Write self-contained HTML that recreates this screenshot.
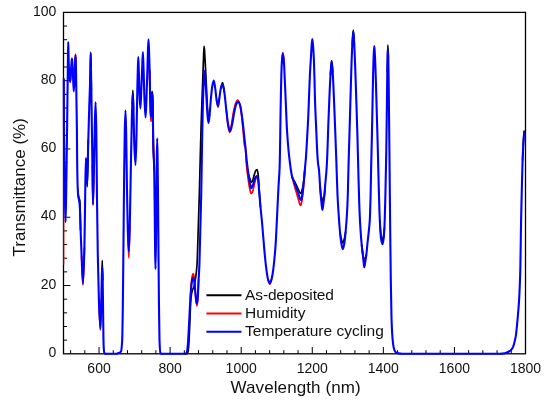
<!DOCTYPE html>
<html><head><meta charset="utf-8"><title>Transmittance</title>
<style>html,body{margin:0;padding:0;background:#fff;width:550px;height:406px;overflow:hidden}
svg{display:block}
text{font-family:"Liberation Sans",Arial,sans-serif;fill:#111}</style></head>
<body><svg width="550" height="406" viewBox="0 0 550 406">
<rect width="550" height="406" fill="#fff"/>
<rect x="63.50" y="12.40" width="462.00" height="341.40" fill="none" stroke="#000" stroke-width="1.3"/>
<path d="M70.61 353.80 V350.20 M84.82 353.80 V350.20 M99.04 353.80 V347.00 M113.25 353.80 V350.20 M127.47 353.80 V350.20 M141.68 353.80 V350.20 M155.90 353.80 V350.20 M170.12 353.80 V347.00 M184.33 353.80 V350.20 M198.55 353.80 V350.20 M212.76 353.80 V350.20 M226.98 353.80 V350.20 M241.19 353.80 V347.00 M255.41 353.80 V350.20 M269.62 353.80 V350.20 M283.84 353.80 V350.20 M298.05 353.80 V350.20 M312.27 353.80 V347.00 M326.48 353.80 V350.20 M340.70 353.80 V350.20 M354.92 353.80 V350.20 M369.13 353.80 V350.20 M383.35 353.80 V347.00 M397.56 353.80 V350.20 M411.78 353.80 V350.20 M425.99 353.80 V350.20 M440.21 353.80 V350.20 M454.42 353.80 V347.00 M468.64 353.80 V350.20 M482.85 353.80 V350.20 M497.07 353.80 V350.20 M511.28 353.80 V350.20 M63.50 340.14 H67.10 M63.50 326.49 H67.10 M63.50 312.83 H67.10 M63.50 299.18 H67.10 M63.50 285.52 H70.30 M63.50 271.86 H67.10 M63.50 258.21 H67.10 M63.50 244.55 H67.10 M63.50 230.90 H67.10 M63.50 217.24 H70.30 M63.50 203.58 H67.10 M63.50 189.93 H67.10 M63.50 176.27 H67.10 M63.50 162.62 H67.10 M63.50 148.96 H70.30 M63.50 135.30 H67.10 M63.50 121.65 H67.10 M63.50 107.99 H67.10 M63.50 94.34 H67.10 M63.50 80.68 H70.30 M63.50 67.02 H67.10 M63.50 53.37 H67.10 M63.50 39.71 H67.10 M63.50 26.06 H67.10" stroke="#000" stroke-width="1" fill="none"/>
<clipPath id="pc"><rect x="63.50" y="0" width="465.00" height="406"/></clipPath>
<g clip-path="url(#pc)">
<path d="M77.80 190.00 C78.00 193.23 78.20 195.02 78.40 196.00 C78.67 197.30 78.93 197.64 79.20 198.50 C79.40 199.15 79.60 199.32 79.80 200.50 C80.07 202.07 80.33 221.82 80.60 230.00 M86.50 172.00 C86.73 177.18 86.97 186.80 87.20 186.80 C87.57 186.80 87.93 154.06 88.30 140.00 M90.00 85.00 C90.13 80.62 90.27 76.22 90.40 70.00 C90.50 65.33 90.60 52.00 90.70 52.00 C90.80 52.00 90.90 64.14 91.00 70.00 C91.12 76.83 91.23 82.60 91.35 90.00 M101.90 275.00 C102.03 269.81 102.17 260.30 102.30 260.30 C102.43 260.30 102.57 271.94 102.70 280.00 M132.30 104.00 C132.50 98.64 132.70 90.30 132.90 90.30 C133.10 90.30 133.30 102.55 133.50 110.00 M149.60 70.00 C149.70 74.24 149.80 81.20 149.90 85.00 C150.03 90.06 150.17 94.68 150.30 97.00 C150.47 99.90 150.63 103.00 150.80 103.00 C151.07 103.00 151.33 95.59 151.60 94.00 C151.80 92.81 152.00 91.50 152.20 91.50 C152.37 91.50 152.53 93.19 152.70 96.00 C152.78 97.41 152.87 104.11 152.95 110.00 C153.07 118.25 153.18 139.47 153.30 145.00 C153.60 159.22 153.90 157.03 154.20 170.00 M185.50 353.70 C185.83 353.70 186.17 353.70 186.50 353.70 C186.77 353.70 187.03 353.62 187.30 353.50 C187.63 353.35 187.97 351.89 188.30 350.00 C188.63 348.11 188.97 341.27 189.30 335.00 C189.53 330.61 189.77 323.75 190.00 318.00 C190.20 313.07 190.40 305.94 190.60 303.00 C190.90 298.59 191.20 295.73 191.50 294.00 C191.83 292.08 192.17 290.89 192.50 290.00 C192.83 289.11 193.17 288.80 193.50 288.00 C193.83 287.20 194.17 286.35 194.50 285.00 C194.87 283.51 195.23 280.75 195.60 278.00 C196.07 274.50 196.53 271.66 197.00 265.00 C197.40 259.29 197.80 242.18 198.20 230.00 C198.57 218.83 198.93 207.88 199.30 195.00 C199.60 184.46 199.90 171.45 200.20 160.00 C200.47 149.82 200.73 138.93 201.00 130.00 C201.33 118.84 201.67 109.53 202.00 100.00 C202.37 89.52 202.73 80.08 203.10 70.00 C203.32 64.04 203.53 55.68 203.75 52.00 C203.90 49.45 204.05 46.30 204.20 46.30 C204.40 46.30 204.60 51.75 204.80 55.00 C205.03 58.79 205.27 63.51 205.50 68.00 C205.73 72.49 205.97 77.07 206.20 82.00 C206.47 87.64 206.73 95.77 207.00 100.00 C207.50 107.94 208.00 117.50 208.50 117.50 C208.87 117.50 209.23 116.40 209.60 115.00 M220.90 88.00 C221.47 85.54 222.03 82.60 222.60 82.60 C223.17 82.60 223.73 88.14 224.30 92.00 M248.60 175.00 C249.07 176.91 249.53 177.65 250.00 179.00 C250.37 180.06 250.73 182.20 251.10 182.20 C251.57 182.20 252.03 181.63 252.50 181.00 C253.07 180.23 253.63 176.77 254.20 175.00 C254.73 173.33 255.27 171.17 255.80 170.50 C256.20 170.00 256.60 169.50 257.00 169.50 C257.37 169.50 257.73 171.66 258.10 174.00 C258.47 176.34 258.83 184.94 259.20 190.00 C259.63 195.98 260.07 202.07 260.50 207.00 M292.20 177.00 C292.97 179.30 293.73 180.00 294.50 181.50 C295.27 183.00 296.03 184.39 296.80 186.00 C297.47 187.40 298.13 189.18 298.80 190.50 C299.27 191.42 299.73 192.66 300.20 193.00 C300.40 193.15 300.60 193.30 300.80 193.30 C301.07 193.30 301.33 192.61 301.60 192.00 C301.93 191.24 302.27 189.65 302.60 188.00 C303.00 186.02 303.40 183.20 303.80 180.00 C304.20 176.80 304.60 172.22 305.00 168.00 M320.00 185.00 C320.33 189.34 320.67 194.44 321.00 196.50 C321.47 199.38 321.93 202.20 322.40 202.20 C322.80 202.20 323.20 196.50 323.60 196.50 C323.77 196.50 323.93 198.00 324.10 198.00 C324.47 198.00 324.83 189.28 325.20 185.00 M330.50 75.00 C330.87 69.18 331.23 60.60 331.60 60.60 C331.97 60.60 332.33 66.92 332.70 72.00 M340.00 232.00 C340.40 235.05 340.80 237.00 341.20 238.50 C341.73 240.50 342.27 243.00 342.80 243.00 C343.33 243.00 343.87 240.50 344.40 238.50 C344.80 237.00 345.20 235.05 345.60 232.00 M352.30 45.00 C352.63 38.75 352.97 30.00 353.30 30.00 C353.63 30.00 353.97 38.75 354.30 45.00 M361.70 245.00 C362.10 249.06 362.50 252.55 362.90 255.00 C363.13 256.43 363.37 257.42 363.60 258.50 C363.83 259.58 364.07 261.50 364.30 261.50 C364.60 261.50 364.90 259.48 365.20 258.50 C365.57 257.31 365.93 256.76 366.30 255.00 M379.80 220.00 C380.23 227.79 380.67 233.77 381.10 236.00 C381.60 238.58 382.10 240.80 382.60 240.80 C382.97 240.80 383.33 237.59 383.70 235.00 C383.93 233.35 384.17 231.47 384.40 228.00 M387.30 72.00 C387.40 65.85 387.50 61.44 387.60 57.00 C387.70 52.56 387.80 45.00 387.90 45.00 C388.03 45.00 388.17 52.15 388.30 58.00 M522.60 160.00 C522.83 153.28 523.07 147.90 523.30 143.50 C523.57 138.47 523.83 135.17 524.10 131.00" fill="none" stroke="#000" stroke-width="1.7" stroke-linejoin="round" stroke-linecap="round"/>
<path d="M63.45 264.00 C63.47 247.67 63.48 227.17 63.50 215.00 C63.53 195.53 63.55 184.15 63.58 170.00 C63.61 152.31 63.65 136.67 63.68 120.00 C63.70 110.00 63.72 95.00 63.74 90.00 C63.76 85.00 63.78 80.00 63.80 80.00 C63.98 80.00 64.17 150.22 64.35 165.00 C64.53 179.78 64.72 186.66 64.90 195.00 M69.50 76.50 C69.77 79.25 70.03 82.50 70.30 82.50 C70.53 82.50 70.77 73.64 71.00 70.00 M74.95 65.00 C75.13 60.79 75.32 54.00 75.50 54.00 C75.62 54.00 75.73 58.21 75.85 62.00 M81.60 256.00 C82.07 266.87 82.53 285.20 83.00 285.20 C83.47 285.20 83.93 266.42 84.40 248.00 M92.40 165.00 C92.60 178.74 92.80 205.40 93.00 205.40 C93.30 205.40 93.60 183.21 93.90 170.00 M98.90 300.00 C99.40 313.67 99.90 330.00 100.40 330.00 C100.70 330.00 101.00 311.19 101.30 300.00 M127.80 230.00 C128.13 242.04 128.47 257.80 128.80 257.80 C129.13 257.80 129.47 238.70 129.80 225.00 M149.60 70.00 C149.70 74.24 149.80 80.00 149.90 85.00 C150.03 91.67 150.17 100.00 150.30 105.00 C150.43 110.00 150.57 114.82 150.70 117.00 C150.83 119.18 150.97 121.50 151.10 121.50 C151.27 121.50 151.43 116.06 151.60 113.00 C151.77 109.94 151.93 105.62 152.10 103.00 C152.20 101.43 152.30 99.00 152.40 99.00 C152.53 99.00 152.67 101.18 152.80 105.00 C152.85 106.43 152.90 113.89 152.95 118.00 C153.07 127.60 153.18 139.88 153.30 145.00 C153.60 158.16 153.90 157.03 154.20 170.00 M190.30 300.00 C190.63 294.00 190.97 286.27 191.30 283.00 C191.67 279.41 192.03 276.76 192.40 275.50 C192.67 274.58 192.93 273.60 193.20 273.60 C193.50 273.60 193.80 275.28 194.10 277.00 C194.47 279.10 194.83 286.79 195.20 291.00 C195.57 295.21 195.93 300.08 196.30 302.50 C196.53 304.04 196.77 306.00 197.00 306.00 C197.27 306.00 197.53 302.41 197.80 299.00 C198.07 295.59 198.33 285.59 198.60 280.00 M216.60 100.00 C217.07 103.03 217.53 107.30 218.00 107.30 C218.47 107.30 218.93 101.11 219.40 98.00 M226.30 110.00 C226.87 115.13 227.43 122.19 228.00 125.50 C228.53 128.61 229.07 132.40 229.60 132.40 C230.17 132.40 230.73 128.27 231.30 125.50 C231.97 122.24 232.63 116.39 233.30 113.00 C234.00 109.44 234.70 105.73 235.40 104.00 C236.13 102.19 236.87 100.20 237.60 100.20 C238.27 100.20 238.93 101.77 239.60 103.50 C240.20 105.06 240.80 109.67 241.40 114.00 C241.93 117.85 242.47 123.69 243.00 129.00 C243.53 134.31 244.07 144.90 244.60 146.00 C244.87 146.55 245.13 146.39 245.40 147.00 C245.70 147.69 246.00 159.34 246.30 163.00 C246.87 169.92 247.43 173.86 248.00 178.00 C248.53 181.90 249.07 185.51 249.60 188.00 C250.10 190.33 250.60 193.60 251.10 193.60 C251.57 193.60 252.03 192.82 252.50 192.00 C253.07 191.00 253.63 187.32 254.20 185.00 C254.73 182.82 255.27 179.88 255.80 178.50 C256.23 177.38 256.67 176.00 257.10 176.00 M268.20 280.00 C268.73 281.94 269.27 284.30 269.80 284.30 C270.40 284.30 271.00 281.33 271.60 279.00 M281.80 63.00 C282.13 57.59 282.47 52.50 282.80 52.50 C283.13 52.50 283.47 56.36 283.80 60.00 M292.20 177.00 C292.97 180.53 293.73 183.18 294.50 186.00 C295.27 188.82 296.03 191.32 296.80 194.00 C297.47 196.33 298.13 198.92 298.80 201.00 C299.27 202.46 299.73 204.24 300.20 205.00 C300.33 205.22 300.47 205.50 300.60 205.50 C300.90 205.50 301.20 204.15 301.50 203.00 C301.87 201.60 302.23 198.84 302.60 196.00 C303.00 192.90 303.40 188.57 303.80 184.00 C304.20 179.43 304.60 172.83 305.00 168.00 M361.70 245.00 C362.10 249.06 362.50 252.33 362.90 255.00 C363.13 256.56 363.37 257.81 363.60 259.00 C363.83 260.19 364.07 262.20 364.30 262.20 C364.60 262.20 364.90 260.08 365.20 259.00 C365.57 257.68 365.93 256.94 366.30 255.00" fill="none" stroke="#f00" stroke-width="1.7" stroke-linejoin="round" stroke-linecap="round"/>
</g>
<path d="M63.80 79.00 C63.83 89.33 63.87 100.77 63.90 110.00 C63.93 119.23 63.97 130.32 64.00 135.00 C64.12 151.38 64.23 157.09 64.35 165.00 C64.53 177.43 64.72 186.66 64.90 195.00 C65.13 205.62 65.37 222.00 65.60 222.00 C65.83 222.00 66.07 199.16 66.30 185.00 C66.47 174.88 66.63 162.08 66.80 150.00 C66.93 140.33 67.07 130.55 67.20 120.00 C67.30 112.09 67.40 103.16 67.50 95.00 C67.58 88.20 67.67 81.88 67.75 75.00 C67.82 69.50 67.88 62.89 67.95 58.00 C68.03 51.88 68.12 42.00 68.20 42.00 C68.28 42.00 68.37 46.72 68.45 50.00 C68.52 52.62 68.58 57.63 68.65 60.00 C68.75 63.55 68.85 65.99 68.95 68.00 C69.13 71.68 69.32 74.82 69.50 76.50 C69.77 78.94 70.03 81.50 70.30 81.50 C70.53 81.50 70.77 73.51 71.00 70.00 C71.17 67.49 71.33 64.94 71.50 63.00 C71.65 61.26 71.80 58.50 71.95 58.50 C72.08 58.50 72.22 61.11 72.35 63.00 C72.53 65.60 72.72 70.38 72.90 74.00 C73.20 79.92 73.50 91.50 73.80 91.50 C74.03 91.50 74.27 82.49 74.50 77.00 C74.65 73.47 74.80 68.23 74.95 65.00 C75.13 61.06 75.32 55.20 75.50 55.20 C75.62 55.20 75.73 58.61 75.85 62.00 C75.93 64.42 76.02 70.03 76.10 75.00 C76.22 81.96 76.33 91.94 76.45 100.00 C76.60 110.36 76.75 117.04 76.90 130.00 C77.00 138.64 77.10 158.52 77.20 165.00 C77.40 177.96 77.60 186.35 77.80 190.00 C78.00 193.65 78.20 195.60 78.40 197.00 C78.60 198.40 78.80 198.91 79.00 200.00 C79.17 200.91 79.33 201.63 79.50 203.00 C79.63 204.10 79.77 205.71 79.90 208.00 C80.13 212.02 80.37 223.32 80.60 230.00 C80.93 239.54 81.27 248.48 81.60 256.00 C82.07 266.52 82.53 283.50 83.00 283.50 C83.47 283.50 83.93 265.84 84.40 248.00 C84.67 237.81 84.93 210.64 85.20 195.00 C85.43 181.31 85.67 158.00 85.90 158.00 C86.10 158.00 86.30 168.03 86.50 172.00 C86.73 176.63 86.97 184.00 87.20 184.00 C87.57 184.00 87.93 153.67 88.30 140.00 C88.63 127.57 88.97 115.42 89.30 105.00 C89.53 97.70 89.77 92.66 90.00 85.00 C90.13 80.62 90.27 76.00 90.40 70.00 C90.50 65.50 90.60 53.50 90.70 53.50 C90.80 53.50 90.90 64.40 91.00 70.00 C91.12 76.54 91.23 82.60 91.35 90.00 C91.53 101.63 91.72 116.93 91.90 130.00 C92.07 141.89 92.23 153.72 92.40 165.00 C92.60 178.53 92.80 204.20 93.00 204.20 C93.30 204.20 93.60 182.95 93.90 170.00 C94.20 157.05 94.50 135.83 94.80 125.00 C95.07 115.37 95.33 102.20 95.60 102.20 C95.83 102.20 96.07 116.73 96.30 130.00 C96.53 143.27 96.77 180.91 97.00 200.00 C97.27 221.82 97.53 241.14 97.80 255.00 C98.17 274.06 98.53 290.24 98.90 300.00 C99.40 313.31 99.90 328.80 100.40 328.80 C100.70 328.80 101.00 310.96 101.30 300.00 C101.50 292.70 101.70 280.04 101.90 275.00 C102.03 271.64 102.17 267.50 102.30 267.50 C102.43 267.50 102.57 274.10 102.70 280.00 C102.87 287.37 103.03 308.36 103.20 320.00 C103.33 329.31 103.47 342.17 103.60 345.00 C103.83 349.96 104.07 353.18 104.30 353.30 C104.87 353.60 105.43 353.70 106.00 353.70 C109.50 353.70 113.00 353.70 116.50 353.70 C117.50 353.70 118.50 353.27 119.50 352.80 C120.00 352.56 120.50 352.32 121.00 351.50 C121.40 350.84 121.80 347.00 122.20 340.00 C122.43 335.91 122.67 317.09 122.90 300.00 C123.10 285.35 123.30 260.00 123.50 240.00 C123.73 216.67 123.97 188.57 124.20 170.00 C124.40 154.08 124.60 137.94 124.80 130.00 C125.03 120.73 125.27 110.50 125.50 110.50 C125.73 110.50 125.97 124.25 126.20 135.00 C126.47 147.28 126.73 174.56 127.00 190.00 C127.27 205.44 127.53 221.86 127.80 230.00 C128.13 240.17 128.47 251.50 128.80 251.50 C129.13 251.50 129.47 236.92 129.80 225.00 C130.13 213.08 130.47 187.46 130.80 170.00 C131.13 152.54 131.47 132.70 131.80 120.00 C131.97 113.65 132.13 107.69 132.30 104.00 C132.50 99.57 132.70 94.00 132.90 94.00 C133.10 94.00 133.30 103.45 133.50 110.00 C133.77 118.74 134.03 138.36 134.30 145.00 C134.70 154.95 135.10 165.00 135.50 165.00 C135.83 165.00 136.17 148.19 136.50 135.00 C136.77 124.45 137.03 102.31 137.30 90.00 C137.47 82.31 137.63 75.23 137.80 70.00 C137.97 64.77 138.13 57.10 138.30 57.10 C138.47 57.10 138.63 65.05 138.80 70.00 C139.03 76.93 139.27 89.99 139.50 95.00 C139.80 101.45 140.10 108.50 140.40 108.50 C140.70 108.50 141.00 96.78 141.30 90.00 C141.57 83.97 141.83 76.32 142.10 70.00 C142.37 63.68 142.63 52.00 142.90 52.00 C143.13 52.00 143.37 63.26 143.60 70.00 C143.90 78.66 144.20 93.46 144.50 100.00 C144.87 107.99 145.23 117.50 145.60 117.50 C145.93 117.50 146.27 103.77 146.60 95.00 C146.87 87.98 147.13 78.97 147.40 70.00 C147.57 64.39 147.73 56.50 147.90 52.00 C148.10 46.60 148.30 39.20 148.50 39.20 C148.70 39.20 148.90 46.60 149.10 52.00 C149.27 56.50 149.43 62.93 149.60 70.00 C149.70 74.24 149.80 80.00 149.90 85.00 C150.00 90.00 150.10 96.00 150.20 100.00 C150.30 104.00 150.40 107.78 150.50 110.00 C150.63 112.96 150.77 116.50 150.90 116.50 C151.07 116.50 151.23 111.20 151.40 108.00 C151.57 104.80 151.73 98.59 151.90 97.00 C152.03 95.73 152.17 94.50 152.30 94.50 C152.43 94.50 152.57 96.79 152.70 100.00 C152.77 101.60 152.83 106.29 152.90 112.00 C152.93 114.85 152.97 121.90 153.00 125.00 C153.10 134.31 153.20 140.79 153.30 145.00 C153.60 157.63 153.90 157.03 154.20 170.00 C154.37 177.21 154.53 195.12 154.70 210.00 C154.83 221.90 154.97 241.41 155.10 250.00 C155.23 258.59 155.37 269.00 155.50 269.00 C155.70 269.00 155.90 245.76 156.10 230.00 C156.30 214.24 156.50 185.45 156.70 170.00 C156.87 157.13 157.03 138.20 157.20 138.20 C157.37 138.20 157.53 153.17 157.70 165.00 C157.90 179.20 158.10 207.53 158.30 230.00 C158.50 252.47 158.70 283.03 158.90 300.00 C159.10 316.97 159.30 334.52 159.50 340.00 C159.77 347.31 160.03 353.16 160.30 353.30 C160.87 353.60 161.43 353.70 162.00 353.70 C169.83 353.70 177.67 353.70 185.50 353.70 C185.93 353.70 186.37 353.24 186.80 352.50 C187.13 351.93 187.47 348.41 187.80 345.00 C188.20 340.91 188.60 332.14 189.00 325.00 C189.43 317.27 189.87 306.50 190.30 300.00 C190.73 293.50 191.17 287.24 191.60 284.00 C191.93 281.51 192.27 279.23 192.60 278.50 C192.83 277.99 193.07 277.50 193.30 277.50 C193.60 277.50 193.90 278.70 194.20 280.00 C194.57 281.59 194.93 288.36 195.30 292.00 C195.67 295.64 196.03 300.64 196.40 302.00 C196.60 302.74 196.80 303.50 197.00 303.50 C197.27 303.50 197.53 300.13 197.80 297.00 C198.07 293.87 198.33 285.31 198.60 280.00 C198.87 274.69 199.13 271.70 199.40 265.00 C199.70 257.46 200.00 241.67 200.30 230.00 C200.60 218.33 200.90 209.19 201.20 195.00 C201.40 185.54 201.60 171.84 201.80 160.00 C201.97 150.14 202.13 138.41 202.30 130.00 C202.53 118.22 202.77 107.41 203.00 100.00 C203.27 91.53 203.53 84.14 203.80 80.00 C204.07 75.86 204.33 71.00 204.60 71.00 C204.83 71.00 205.07 75.11 205.30 78.00 C205.63 82.13 205.97 89.39 206.30 95.00 C206.70 101.73 207.10 110.72 207.50 115.00 C207.83 118.57 208.17 123.00 208.50 123.00 C208.87 123.00 209.23 118.36 209.60 115.00 C210.00 111.34 210.40 104.30 210.80 100.00 C211.30 94.63 211.80 88.63 212.30 86.00 C212.80 83.37 213.30 80.50 213.80 80.50 C214.27 80.50 214.73 84.92 215.20 88.00 C215.67 91.08 216.13 97.33 216.60 100.00 C217.07 102.67 217.53 106.00 218.00 106.00 C218.47 106.00 218.93 100.87 219.40 98.00 C219.90 94.93 220.40 89.59 220.90 88.00 C221.47 86.20 222.03 84.50 222.60 84.50 C223.17 84.50 223.73 88.68 224.30 92.00 C224.97 95.91 225.63 104.40 226.30 110.00 C226.93 115.32 227.57 122.04 228.20 125.00 C228.83 127.96 229.47 131.30 230.10 131.30 C230.80 131.30 231.50 127.03 232.20 124.00 C232.90 120.97 233.60 115.29 234.30 112.00 C234.97 108.87 235.63 105.27 236.30 104.00 C236.97 102.73 237.63 101.50 238.30 101.50 C238.97 101.50 239.63 103.78 240.30 106.00 C240.93 108.11 241.57 113.33 242.20 118.00 C242.73 121.93 243.27 127.17 243.80 132.00 C244.33 136.83 244.87 141.84 245.40 147.00 C245.93 152.16 246.47 158.43 247.00 163.00 C247.53 167.57 248.07 171.31 248.60 175.00 C249.07 178.23 249.53 181.75 250.00 184.00 C250.37 185.77 250.73 188.30 251.10 188.30 C251.57 188.30 252.03 186.97 252.50 186.00 C253.07 184.82 253.63 182.57 254.20 181.00 C254.73 179.52 255.27 177.32 255.80 176.80 C256.23 176.38 256.67 176.00 257.10 176.00 C257.43 176.00 257.77 178.06 258.10 180.00 C258.47 182.13 258.83 187.89 259.20 192.00 C259.63 196.86 260.07 202.35 260.50 207.00 C261.00 212.37 261.50 216.55 262.00 222.00 C262.50 227.45 263.00 234.17 263.50 240.00 C264.00 245.83 264.50 252.06 265.00 257.00 C265.53 262.27 266.07 267.35 266.60 271.00 C267.13 274.65 267.67 278.43 268.20 280.00 C268.73 281.57 269.27 283.20 269.80 283.20 C270.40 283.20 271.00 281.00 271.60 279.00 C272.13 277.23 272.67 273.76 273.20 270.00 C273.67 266.71 274.13 261.92 274.60 257.00 C274.93 253.49 275.27 249.91 275.60 245.00 C275.90 240.58 276.20 233.94 276.50 228.00 C276.87 220.73 277.23 212.49 277.60 205.00 C277.93 198.19 278.27 191.13 278.60 185.00 C278.93 178.87 279.27 176.72 279.60 168.00 C279.77 163.64 279.93 154.25 280.10 145.00 C280.27 135.75 280.43 119.72 280.60 110.00 C280.77 100.28 280.93 91.52 281.10 85.00 C281.33 75.88 281.57 66.57 281.80 63.00 C282.13 57.90 282.47 53.30 282.80 53.30 C283.13 53.30 283.47 56.65 283.80 60.00 C284.13 63.35 284.47 72.87 284.80 80.00 C285.13 87.13 285.47 95.42 285.80 103.00 C286.20 112.10 286.60 123.24 287.00 130.00 C287.50 138.45 288.00 144.60 288.50 150.00 C288.90 154.32 289.30 157.70 289.70 161.00 C290.10 164.30 290.50 167.49 290.90 170.00 C291.33 172.72 291.77 175.43 292.20 177.00 C292.97 179.78 293.73 181.00 294.50 183.00 C295.27 185.00 296.03 186.86 296.80 189.00 C297.47 190.86 298.13 192.97 298.80 195.00 C299.23 196.32 299.67 198.18 300.10 199.00 C300.33 199.44 300.57 200.00 300.80 200.00 C301.07 200.00 301.33 199.26 301.60 198.50 C301.93 197.55 302.27 194.43 302.60 192.00 C303.00 189.09 303.40 185.89 303.80 182.00 C304.20 178.11 304.60 172.55 305.00 168.00 C305.30 164.59 305.60 161.95 305.90 158.00 C306.27 153.18 306.63 146.34 307.00 140.00 C307.40 133.09 307.80 126.61 308.20 118.00 C308.50 111.54 308.80 102.58 309.10 95.00 C309.37 88.26 309.63 80.44 309.90 75.00 C310.23 68.21 310.57 63.69 310.90 58.00 C311.13 54.02 311.37 48.95 311.60 46.00 C311.83 43.05 312.07 39.00 312.30 39.00 C312.57 39.00 312.83 42.89 313.10 46.00 C313.37 49.11 313.63 53.79 313.90 60.00 C314.10 64.66 314.30 72.71 314.50 80.00 C314.67 86.08 314.83 94.78 315.00 100.00 C315.27 108.35 315.53 113.68 315.80 120.00 C316.07 126.32 316.33 132.17 316.60 138.00 C316.87 143.83 317.13 150.68 317.40 155.00 C317.60 158.24 317.80 161.12 318.00 163.00 C318.33 166.14 318.67 166.82 319.00 170.00 C319.33 173.18 319.67 180.36 320.00 185.00 C320.33 189.64 320.67 194.26 321.00 198.00 C321.23 200.62 321.47 203.10 321.70 205.00 C321.93 206.90 322.17 209.80 322.40 209.80 C322.67 209.80 322.93 206.80 323.20 205.00 C323.50 202.97 323.80 200.80 324.10 198.00 C324.47 194.58 324.83 189.28 325.20 185.00 C325.63 179.94 326.07 176.31 326.50 170.00 C326.77 166.12 327.03 161.10 327.30 155.00 C327.63 147.37 327.97 134.12 328.30 125.00 C328.70 114.06 329.10 103.86 329.50 95.00 C329.83 87.62 330.17 80.14 330.50 75.00 C330.87 69.35 331.23 61.30 331.60 61.30 C331.97 61.30 332.33 67.13 332.70 72.00 C333.07 76.87 333.43 86.66 333.80 95.00 C334.20 104.10 334.60 114.63 335.00 125.00 C335.43 136.23 335.87 147.86 336.30 160.00 C336.70 171.21 337.10 186.52 337.50 195.00 C337.90 203.48 338.30 209.13 338.70 215.00 C339.13 221.36 339.57 227.47 340.00 232.00 C340.40 236.18 340.80 240.20 341.20 242.50 C341.73 245.57 342.27 249.20 342.80 249.20 C343.33 249.20 343.87 245.96 344.40 243.00 C344.80 240.78 345.20 236.30 345.60 232.00 C346.03 227.34 346.47 222.25 346.90 215.00 C347.20 209.98 347.50 203.88 347.80 195.00 C348.00 189.08 348.20 177.46 348.40 170.00 C348.70 158.81 349.00 150.24 349.30 140.00 C349.63 128.62 349.97 116.67 350.30 105.00 C350.63 93.33 350.97 79.72 351.30 70.00 C351.63 60.28 351.97 50.98 352.30 45.00 C352.63 39.02 352.97 31.00 353.30 31.00 C353.63 31.00 353.97 39.02 354.30 45.00 C354.63 50.98 354.97 60.91 355.30 70.00 C355.63 79.09 355.97 89.71 356.30 100.00 C356.67 111.32 357.03 122.12 357.40 135.00 C357.70 145.54 358.00 158.94 358.30 170.00 C358.63 182.29 358.97 196.24 359.30 205.00 C359.67 214.64 360.03 222.06 360.40 228.00 C360.83 235.02 361.27 240.60 361.70 245.00 C362.10 249.06 362.50 251.33 362.90 255.00 C363.13 257.14 363.37 259.99 363.60 262.00 C363.83 264.01 364.07 267.30 364.30 267.30 C364.60 267.30 364.90 263.83 365.20 262.00 C365.57 259.76 365.93 257.84 366.30 255.00 C366.70 251.90 367.10 246.83 367.50 243.00 C367.90 239.17 368.30 235.99 368.70 232.00 C369.07 228.34 369.43 226.08 369.80 220.00 C370.07 215.57 370.33 205.37 370.60 195.00 C370.80 187.22 371.00 174.09 371.20 165.00 C371.40 155.91 371.60 149.07 371.80 140.00 C372.03 129.42 372.27 116.67 372.50 105.00 C372.70 95.00 372.90 83.00 373.10 75.00 C373.30 67.00 373.50 59.14 373.70 55.00 C373.90 50.86 374.10 46.00 374.30 46.00 C374.50 46.00 374.70 51.29 374.90 55.00 C375.17 59.94 375.43 67.27 375.70 75.00 C376.03 84.66 376.37 98.33 376.70 110.00 C377.03 121.67 377.37 132.56 377.70 145.00 C378.03 157.44 378.37 173.16 378.70 185.00 C379.07 198.02 379.43 212.58 379.80 220.00 C380.23 228.77 380.67 236.54 381.10 239.00 C381.60 241.84 382.10 244.20 382.60 244.20 C382.97 244.20 383.33 241.06 383.70 238.00 C383.93 236.05 384.17 232.55 384.40 228.00 C384.73 221.50 385.07 208.30 385.40 195.00 C385.70 183.03 386.00 168.24 386.30 150.00 C386.50 137.84 386.70 120.76 386.90 105.00 C387.03 94.49 387.17 80.21 387.30 72.00 C387.40 65.85 387.50 60.53 387.60 57.00 C387.70 53.47 387.80 48.80 387.90 48.80 C388.03 48.80 388.17 53.43 388.30 58.00 C388.43 62.57 388.57 74.77 388.70 85.00 C388.87 97.79 389.03 114.21 389.20 130.00 C389.37 145.79 389.53 163.33 389.70 180.00 C389.87 196.67 390.03 214.81 390.20 230.00 C390.40 248.23 390.60 266.78 390.80 280.00 C391.03 295.42 391.27 310.99 391.50 318.00 C391.83 328.02 392.17 334.22 392.50 338.00 C392.93 342.91 393.37 346.34 393.80 348.00 C394.37 350.17 394.93 351.78 395.50 352.20 C396.50 352.94 397.50 353.26 398.50 353.40 C399.67 353.57 400.83 353.70 402.00 353.70 C434.67 353.70 467.33 353.70 500.00 353.70 C501.67 353.70 503.33 353.48 505.00 353.20 C506.33 352.98 507.67 352.28 509.00 351.50 C510.07 350.87 511.13 350.12 512.20 348.60 C513.37 346.94 514.53 342.75 515.70 336.60 C516.27 333.61 516.83 326.97 517.40 321.00 C517.97 315.03 518.53 309.56 519.10 300.00 C519.50 293.25 519.90 284.71 520.30 270.00 C520.57 260.20 520.83 233.50 521.10 220.00 C521.33 208.18 521.57 199.35 521.80 190.00 C522.07 179.32 522.33 167.23 522.60 160.00 C522.83 153.67 523.07 149.09 523.30 145.00 C523.57 140.32 523.83 137.13 524.10 133.20" fill="none" stroke="#00f" stroke-width="2.1" stroke-linejoin="round" stroke-linecap="round"/>
<text x="56.4" y="356.90" text-anchor="end" font-size="14">0</text>
<text x="56.4" y="288.62" text-anchor="end" font-size="14">20</text>
<text x="56.4" y="220.34" text-anchor="end" font-size="14">40</text>
<text x="56.4" y="152.06" text-anchor="end" font-size="14">60</text>
<text x="56.4" y="83.78" text-anchor="end" font-size="14">80</text>
<text x="56.4" y="15.50" text-anchor="end" font-size="14">100</text>
<text x="99.04" y="372.6" text-anchor="middle" font-size="14">600</text>
<text x="170.12" y="372.6" text-anchor="middle" font-size="14">800</text>
<text x="241.19" y="372.6" text-anchor="middle" font-size="14">1000</text>
<text x="312.27" y="372.6" text-anchor="middle" font-size="14">1200</text>
<text x="383.35" y="372.6" text-anchor="middle" font-size="14">1400</text>
<text x="454.42" y="372.6" text-anchor="middle" font-size="14">1600</text>
<text x="525.50" y="372.6" text-anchor="middle" font-size="14">1800</text>
<text x="230.5" y="392.5" font-size="17" textLength="130.2" lengthAdjust="spacing">Wavelength (nm)</text>
<text transform="translate(25.2 256.4) rotate(-90)" font-size="17">Transmittance (%)</text>
<path d="M206.4 295.20 H241.5" stroke="#000" stroke-width="2"/>
<text x="245.1" y="299.80" font-size="15.5" textLength="88.8" lengthAdjust="spacing">As-deposited</text>
<path d="M206.4 313.50 H241.5" stroke="#f00" stroke-width="2"/>
<text x="245.1" y="318.10" font-size="15.5">Humidity</text>
<path d="M206.4 331.80 H241.5" stroke="#00f" stroke-width="2"/>
<text x="245.1" y="336.40" font-size="15.5">Temperature cycling</text>
</svg></body></html>
